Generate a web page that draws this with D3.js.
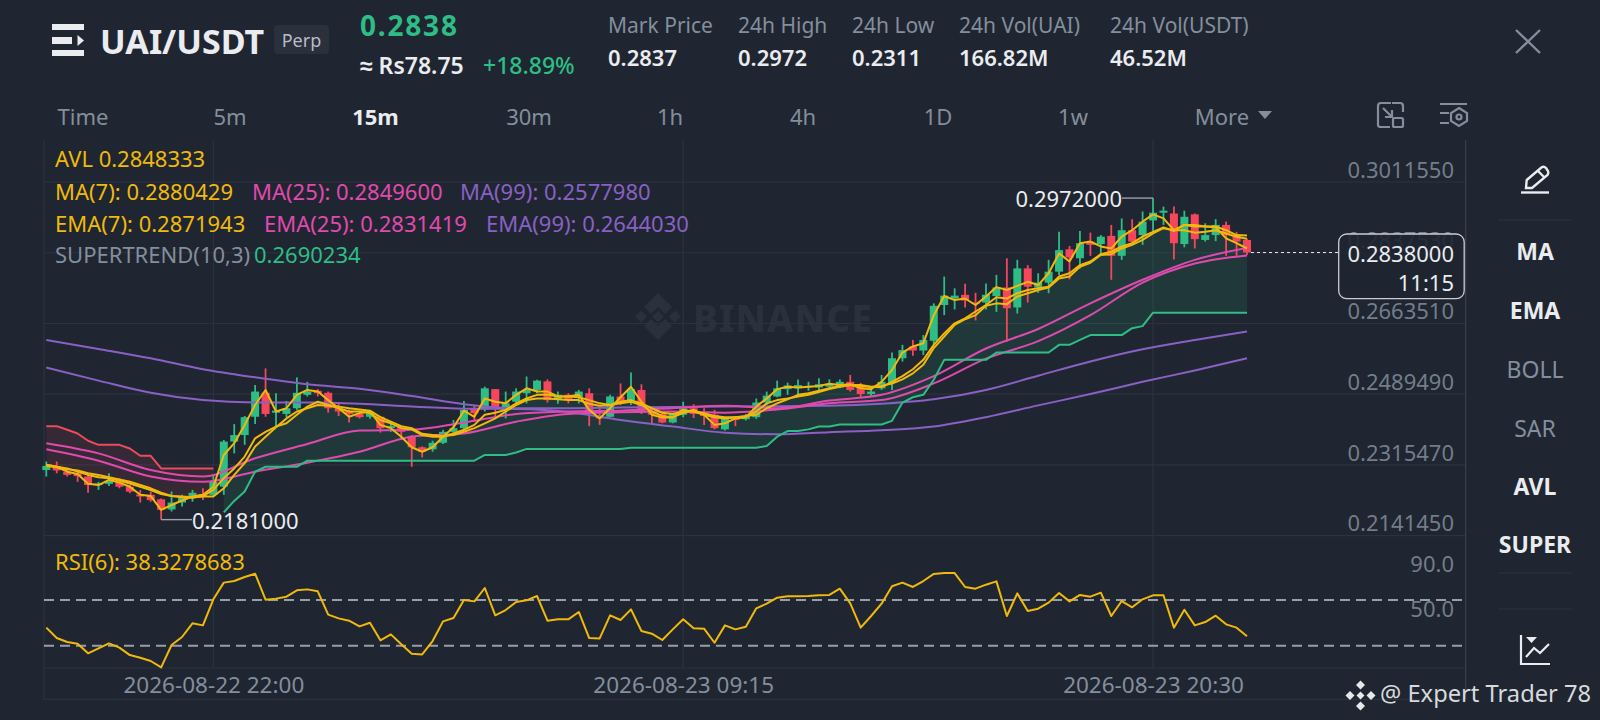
<!DOCTYPE html>
<html><head><meta charset="utf-8">
<script src="https://cdn.jsdelivr.net/npm/d3@7/dist/d3.min.js"></script>
<style>html,body{margin:0;padding:0;background:#1f2631;overflow:hidden}svg{display:block}text{font-family:"Noto Sans",sans-serif}</style>
</head><body><svg id="c" width="1600" height="720"></svg>
<script>
const openP=[.2303,.2313,.2299,.2295,.2287,.2266,.2269,.2274,.2262,.2243,
.2242,.2231,.2206,.2223,.2238,.2244,.2242,.2262,.2373,.2389,
.2434,.2493,.2444,.2441,.2455,.2488,.2498,.2493,.2455,.2447,
.2441,.2434,.2434,.2406,.2408,.2387,.2359,.2354,.2370,.2397,
.2406,.2453,.2452,.2502,.2451,.2471,.2492,.2500,.2521,.2477,
.2488,.2482,.2492,.2434,.2434,.2484,.2475,.2500,.2447,.2441,
.2420,.2439,.2455,.2441,.2439,.2403,.2430,.2428,.2433,.2469,
.2484,.2502,.2504,.2506,.2506,.2508,.2506,.2520,.2510,.2490,
.2504,.2517,.2578,.2607,.2597,.2621,.2709,.2725,.2734,.2715,
.2715,.2731,.2752,.2703,.2799,.2752,.2764,.2791,.2846,.2824,
.2865,.2859,.2879,.2830,.2893,.2881,.2917,.2936,.2934,.2859,
.2932,.2869,.2881,.2906,.2881,.2869];
const highP=[.2324,.2324,.2303,.2299,.2291,.2274,.2295,.2283,.2266,.2254,
.2250,.2233,.2250,.2242,.2254,.2258,.2293,.2377,.2416,.2436,
.2512,.2553,.2492,.2473,.2531,.2520,.2502,.2496,.2467,.2452,
.2447,.2447,.2436,.2416,.2411,.2389,.2361,.2375,.2402,.2426,
.2473,.2463,.2508,.2502,.2496,.2504,.2533,.2525,.2526,.2496,
.2492,.2500,.2504,.2455,.2488,.2516,.2543,.2514,.2451,.2444,
.2444,.2471,.2465,.2455,.2451,.2433,.2436,.2441,.2479,.2496,
.2523,.2518,.2526,.2520,.2529,.2526,.2526,.2537,.2517,.2508,
.2537,.2592,.2611,.2623,.2635,.2713,.2779,.2750,.2761,.2739,
.2762,.2783,.2824,.2820,.2807,.2787,.2820,.2889,.2854,.2891,
.2887,.2881,.2906,.2922,.2920,.2939,.2972,.2951,.2951,.2941,
.2934,.2910,.2920,.2914,.2889,.2872];
const lowP=[.2287,.2295,.2287,.2274,.2247,.2254,.2264,.2258,.2246,.2223,
.2225,.2181,.2201,.2213,.2225,.2229,.2238,.2242,.2344,.2365,
.2416,.2434,.2411,.2433,.2451,.2484,.2484,.2444,.2436,.2420,
.2430,.2429,.2395,.2397,.2377,.2311,.2334,.2348,.2367,.2393,
.2402,.2422,.2447,.2434,.2430,.2463,.2467,.2492,.2469,.2466,
.2467,.2467,.2411,.2414,.2433,.2463,.2463,.2441,.2418,.2418,
.2418,.2433,.2431,.2414,.2403,.2400,.2411,.2425,.2429,.2463,
.2482,.2488,.2484,.2498,.2500,.2502,.2504,.2496,.2482,.2484,
.2500,.2500,.2570,.2584,.2586,.2611,.2684,.2698,.2703,.2671,
.2698,.2692,.2619,.2688,.2715,.2739,.2738,.2783,.2772,.2799,
.2830,.2832,.2771,.2820,.2857,.2857,.2889,.2906,.2821,.2851,
.2848,.2865,.2866,.2830,.2830,.2832];
const closeP=[.2313,.2302,.2291,.2288,.2266,.2270,.2276,.2262,.2250,.2238,
.2229,.2205,.2223,.2238,.2247,.2238,.2274,.2373,.2389,.2433,
.2496,.2441,.2449,.2455,.2493,.2496,.2492,.2455,.2447,.2441,
.2433,.2443,.2406,.2411,.2397,.2359,.2348,.2370,.2397,.2406,
.2451,.2443,.2504,.2455,.2467,.2496,.2500,.2523,.2475,.2488,
.2477,.2496,.2447,.2430,.2484,.2467,.2502,.2447,.2439,.2420,
.2441,.2455,.2441,.2436,.2406,.2430,.2426,.2436,.2469,.2486,
.2504,.2511,.2512,.2510,.2514,.2513,.2520,.2500,.2490,.2496,
.2520,.2578,.2598,.2597,.2623,.2707,.2732,.2732,.2720,.2712,
.2734,.2752,.2701,.2799,.2754,.2764,.2791,.2844,.2826,.2861,
.2857,.2877,.2830,.2893,.2865,.2914,.2936,.2941,.2861,.2926,
.2871,.2881,.2906,.2881,.2865,.2838];
const avl=[.2316,.2311,.2299,.2293,.2269,.2266,.2279,.2272,.2262,.2242,
.2239,.2205,.2217,.2228,.2238,.2242,.2262,.2340,.2369,.2414,
.2463,.2500,.2447,.2455,.2488,.2500,.2496,.2475,.2455,.2434,
.2443,.2447,.2414,.2406,.2385,.2359,.2348,.2359,.2385,.2408,
.2449,.2434,.2479,.2471,.2467,.2488,.2504,.2496,.2496,.2484,
.2484,.2488,.2451,.2430,.2455,.2482,.2508,.2471,.2439,.2432,
.2432,.2451,.2447,.2439,.2414,.2418,.2430,.2433,.2459,.2479,
.2502,.2508,.2506,.2508,.2510,.2515,.2512,.2514,.2504,.2502,
.2520,.2549,.2592,.2607,.2615,.2684,.2731,.2721,.2725,.2709,
.2730,.2753,.2746,.2756,.2766,.2758,.2787,.2836,.2816,.2861,
.2865,.2853,.2848,.2877,.2893,.2914,.2932,.2922,.2893,.2906,
.2902,.2902,.2900,.2873,.2861,.2848];
const ma7=[.2316,.2311,.2307,.2299,.2291,.2285,.2283,.2277,.2270,.2262,
.2254,.2244,.2239,.2236,.2235,.2239,.2254,.2283,.2307,.2336,
.2381,.2397,.2410,.2418,.2439,.2459,.2471,.2463,.2455,.2447,
.2447,.2443,.2426,.2418,.2406,.2403,.2389,.2385,.2385,.2393,
.2402,.2414,.2439,.2444,.2451,.2467,.2479,.2488,.2489,.2484,
.2484,.2482,.2475,.2467,.2463,.2471,.2475,.2467,.2455,.2444,
.2441,.2447,.2447,.2443,.2436,.2433,.2433,.2436,.2439,.2455,
.2467,.2477,.2488,.2492,.2498,.2504,.2510,.2512,.2510,.2507,
.2507,.2520,.2534,.2551,.2574,.2611,.2639,.2664,.2676,.2693,
.2709,.2728,.2725,.2738,.2746,.2750,.2754,.2779,.2787,.2807,
.2816,.2834,.2840,.2853,.2861,.2877,.2889,.2900,.2891,.2906,
.2906,.2902,.2902,.2893,.2881,.2880];
const ema7=[.2313,.2310,.2305,.2302,.2295,.2291,.2285,.2280,.2274,.2266,
.2258,.2247,.2239,.2238,.2236,.2238,.2238,.2258,.2291,.2320,
.2361,.2385,.2408,.2430,.2447,.2455,.2463,.2461,.2459,.2455,
.2452,.2449,.2433,.2422,.2411,.2406,.2392,.2389,.2387,.2389,
.2397,.2406,.2418,.2430,.2447,.2463,.2475,.2479,.2479,.2477,
.2475,.2475,.2466,.2461,.2463,.2467,.2471,.2463,.2447,.2436,
.2433,.2443,.2451,.2439,.2433,.2430,.2433,.2434,.2447,.2467,
.2475,.2479,.2484,.2488,.2495,.2502,.2508,.2512,.2512,.2508,
.2510,.2516,.2526,.2541,.2562,.2603,.2631,.2660,.2674,.2684,
.2707,.2713,.2711,.2730,.2738,.2746,.2752,.2774,.2779,.2803,
.2813,.2832,.2834,.2848,.2857,.2869,.2885,.2898,.2893,.2893,
.2887,.2889,.2893,.2885,.2877,.2872];
const knotIndex=[0,5,10,15,20,25,30,35,40,45,50,55,60,65,70,75,80,85,90,95,100,105,110,115];
const ma25=[.2369,.2344,.2303,.2287,.2332,.2367,.2400,.2402,.2420,.2441,.2447,.2449,.2455,.2461,.2455,.2474,.2488,.2534,.2602,.2650,.2713,.2771,.2820,.2849];
const ema25=[.2354,.2326,.2287,.2274,.2299,.2321,.2348,.2385,.2393,.2422,.2441,.2445,.2447,.2444,.2452,.2467,.2475,.2516,.2577,.2620,.2684,.2764,.2811,.2831];
const ma99=[.2555,.2523,.2493,.2475,.2469,.2469,.2466,.2459,.2454,.2453,.2446,.2426,.2410,.2395,.2391,.2396,.2401,.2410,.2433,.2462,.2490,.2520,.2548,.2578];
const ema99=[.2623,.2601,.2578,.2551,.2531,.2514,.2503,.2485,.2465,.2455,.2455,.2457,.2458,.2459,.2460,.2461,.2466,.2477,.2500,.2535,.2570,.2600,.2623,.2644];
const supertrend=[.2411,.2411,.2402,.2393,.2375,.2365,.2365,.2365,.2356,.2338,
.2338,.2307,.2307,.2307,.2307,.2307,.2307,.2199,.2227,.2250,
.2299,.2311,.2311,.2311,.2311,.2326,.2326,.2326,.2326,.2326,
.2326,.2326,.2326,.2326,.2326,.2326,.2326,.2326,.2326,.2326,
.2326,.2326,.2340,.2340,.2340,.2346,.2355,.2355,.2355,.2355,
.2355,.2355,.2355,.2355,.2355,.2355,.2358,.2358,.2358,.2358,
.2358,.2358,.2358,.2358,.2358,.2358,.2358,.2358,.2358,.2362,
.2385,.2399,.2399,.2403,.2410,.2410,.2415,.2415,.2415,.2415,
.2415,.2424,.2469,.2482,.2488,.2525,.2574,.2574,.2574,.2574,
.2574,.2592,.2592,.2592,.2592,.2592,.2592,.2611,.2611,.2623,
.2635,.2635,.2635,.2635,.2652,.2657,.2690,.2690,.2690,.2690,
.2690,.2690,.2690,.2690,.2690,.2690];
const firstGreenIndex=17;
const rsi=[45.8,36.7,33.2,31.8,23.3,27.7,32.1,28.3,21.8,19.5,
16.6,11.0,30.6,37.6,49.6,47.8,70.6,85.2,86.6,90.1,
93.0,70.3,71.2,72.9,78.5,79.3,77.6,57.2,53.9,51.9,
46.9,50.1,34.7,39.9,31.2,23.0,22.4,34.1,51.3,54.2,
70.0,68.8,80.5,56.6,61.2,68.2,69.7,73.5,51.9,53.1,
53.1,59.5,36.7,36.4,56.6,52.5,61.8,42.9,40.5,35.0,
44.3,53.1,45.2,44.9,32.6,47.8,44.3,46.6,62.7,66.8,
72.0,73.2,73.2,73.5,74.1,74.4,79.9,67.1,45.8,56.0,
66.8,82.0,85.2,81.4,86.6,92.8,93.6,93.6,81.4,79.9,
83.4,86.3,56.0,75.8,60.4,62.4,67.7,76.1,68.8,74.4,
72.9,76.4,56.0,69.1,63.6,70.6,74.1,74.1,45.8,61.5,
47.8,50.7,56.3,48.7,45.8,38.3];
const priceTicks=[0.3011550,0.2837530,0.2663510,0.2489490,0.2315470,0.2141450];
const rsiTicks=[90,50];
const rsiBands=[70,30];
const timeTickIndex=[16,61,106];
const timeTickLabels=["2026-08-22 22:00","2026-08-23 09:15","2026-08-23 20:30"];
const tabs=["Time","5m","15m","30m","1h","4h","1D","1w","More"];
const statLabels=["Mark Price","24h High","24h Low","24h Vol(UAI)","24h Vol(USDT)"];
const statValues=["0.2837","0.2972","0.2311","166.82M","46.52M"];
const sideLabels=["MA","EMA","BOLL","SAR","AVL","SUPER"];
const sideActive=[true,true,false,false,true,true];

const GREEN="#2ebd85",RED="#f6465d",YEL="#f0b90b",PINK="#e04aae",PUR="#8a60c4",GREY="#848e9c",WHITE="#eaecef",GRID="#2c333f";
const svg=d3.select("#c");
svg.append("rect").attr("width",1600).attr("height",720).attr("fill","#1f2631");
function T(s,x,y,o={}){return svg.append("text").text(s).attr("x",x).attr("y",y).attr("dominant-baseline","central")
 .attr("font-size",o.size||22).attr("fill",o.fill||GREY).attr("font-weight",o.weight||400).attr("text-anchor",o.anchor||"start")
 .attr("letter-spacing",o.ls||null).attr("font-family",o.family||null);}

const x=d3.scaleLinear().domain([0,115]).range([46.3,1247]);
const y=d3.scaleLinear().domain([0.214145,0.301155]).range([535.7,182]);
const yR=d3.scaleLinear().domain([30,70]).range([645.7,600]);

// watermark
const WM="#2a313d";
const wm=svg.append("g").attr("fill",WM);
wm.append("path").attr("d","M658 293L672 307L665 314L658 307L651 314L644 307Z");
wm.append("path").attr("d","M658 340L672 326L665 319L658 326L651 319L644 326Z");
[[658,316.5],[641,316.5],[675,316.5]].forEach(c=>wm.append("path").attr("d",`M${c[0]-6} ${c[1]}L${c[0]} ${c[1]-6}L${c[0]+6} ${c[1]}L${c[0]} ${c[1]+6}Z`));
T("BINANCE",693,317,{size:37,weight:800,fill:WM,family:"Inter",ls:1.2});

// frame
const L=44,R=1465.7,TOP=140,BOT=699.3;
const frame=svg.append("g").attr("stroke",GRID).attr("stroke-width",1.2).attr("fill","none");
priceTicks.forEach(p=>frame.append("line").attr("x1",L).attr("x2",R).attr("y1",y(p)).attr("y2",y(p)));
frame.append("line").attr("x1",L).attr("x2",R).attr("y1",668).attr("y2",668);
frame.append("line").attr("x1",L).attr("x2",R).attr("y1",BOT).attr("y2",BOT);
frame.append("line").attr("x1",L).attr("x2",L).attr("y1",TOP).attr("y2",BOT);
frame.append("line").attr("x1",R).attr("x2",R).attr("y1",TOP).attr("y2",BOT).attr("stroke","#3a414d");
timeTickIndex.forEach(i=>frame.append("line").attr("x1",x(i)).attr("x2",x(i)).attr("y1",TOP).attr("y2",668));

// supertrend fill
const areaGen=d3.area().x(i=>x(i)).y0(i=>y(supertrend[i])).y1(i=>y(ema7[i]));
const allIdx=d3.range(closeP.length);
svg.append("path").attr("d",areaGen(allIdx.filter(i=>i<firstGreenIndex))).attr("fill",RED).attr("fill-opacity",0.1);
svg.append("path").attr("d",areaGen(allIdx.filter(i=>i>=firstGreenIndex))).attr("fill",GREEN).attr("fill-opacity",0.12);

// candles
const cg=svg.append("g");
cg.selectAll("line").data(allIdx).join("line").attr("x1",x).attr("x2",x)
 .attr("y1",i=>y(highP[i])).attr("y2",i=>y(lowP[i])).attr("stroke-width",1.8)
 .attr("stroke",i=>closeP[i]>=openP[i]?GREEN:RED);
cg.selectAll("rect").data(allIdx).join("rect").attr("x",i=>x(i)-4).attr("width",8)
 .attr("y",i=>y(Math.max(openP[i],closeP[i])))
 .attr("height",i=>Math.max(1.5,Math.abs(y(openP[i])-y(closeP[i]))))
 .attr("fill",i=>closeP[i]>=openP[i]?GREEN:RED);

// indicator lines
function ln(vals,idx,col,curve){const g=d3.line().x(d=>x(d[0])).y(d=>y(d[1])).curve(curve||d3.curveLinear);
 svg.append("path").attr("d",g(idx.map((k,j)=>[k,vals[j]]))).attr("fill","none").attr("stroke",col).attr("stroke-width",2).attr("stroke-linejoin","round");}
ln(ema99,knotIndex,PUR,d3.curveMonotoneX);
ln(ma99,knotIndex,PUR,d3.curveMonotoneX);
ln(ema25,knotIndex,PINK,d3.curveMonotoneX);
ln(ma25,knotIndex,PINK,d3.curveMonotoneX);
const redIdx=allIdx.filter(i=>i<firstGreenIndex),grnIdx=allIdx.filter(i=>i>=firstGreenIndex);
ln(redIdx.map(i=>supertrend[i]),redIdx,"#ef4a5c");
ln(grnIdx.map(i=>supertrend[i]),grnIdx,GREEN);
ln(ema7,allIdx,YEL);
ln(ma7,allIdx,YEL);
ln(avl,allIdx,YEL);

// y axis (labels)
const yAxis=d3.axisLeft(y).tickValues(priceTicks).tickSize(0).tickPadding(0).tickFormat(d3.format(".7f"));
const ya=svg.append("g").attr("transform","translate(1454,-12)").call(yAxis);
ya.select(".domain").remove();
ya.selectAll("text").attr("font-size",22).attr("fill",GREY).attr("font-family",'"Noto Sans"').attr("fill-opacity",0.85);

// high/low leaders
const hiI=d3.range(closeP.length).reduce((a,b)=>highP[b]>highP[a]?b:a,0);
const loI=d3.range(closeP.length).reduce((a,b)=>lowP[b]<lowP[a]?b:a,0);
svg.append("path").attr("d",`M1122 ${y(highP[hiI])}H${x(hiI)}`).attr("stroke","#9aa1ab").attr("stroke-width",1.4).attr("fill","none");
T(d3.format(".7f")(highP[hiI]),1122,y(highP[hiI]),{size:22,fill:WHITE,anchor:"end"});
svg.append("path").attr("d",`M${x(loI)} ${y(lowP[loI])}H192`).attr("stroke","#9aa1ab").attr("stroke-width",1.4).attr("fill","none");
T(d3.format(".7f")(lowP[loI]),192,y(lowP[loI]),{size:22,fill:WHITE});

// last price
const last=closeP[closeP.length-1],ly=y(last);
svg.append("line").attr("x1",x(115)+4).attr("x2",1339).attr("y1",ly).attr("y2",ly).attr("stroke",WHITE).attr("stroke-width",1).attr("stroke-dasharray","3 3");
svg.append("rect").attr("x",1338.7).attr("y",234).attr("width",125.5).attr("height",64.7).attr("rx",8).attr("fill","#1f2631").attr("fill-opacity",0.9).attr("stroke","#c9ccd1").attr("stroke-width",1.3);
T(d3.format(".7f")(last),1454,253,{size:22,fill:WHITE,anchor:"end"});
T("11:15",1454,282,{size:22,fill:WHITE,anchor:"end"});

// legend
T("AVL 0.2848333",55,158,{fill:YEL});
T("MA(7): 0.2880429",55,191,{fill:YEL});
T("MA(25): 0.2849600",252,191,{fill:PINK});
T("MA(99): 0.2577980",460,191,{fill:PUR});
T("EMA(7): 0.2871943",55,222.5,{fill:YEL});
T("EMA(25): 0.2831419",264,222.5,{fill:PINK});
T("EMA(99): 0.2644030",486,222.5,{fill:PUR});
T("SUPERTREND(10,3)",55,254,{fill:GREY});
T("0.2690234",254,254,{fill:GREEN});

// RSI
T("RSI(6): 38.3278683",55,561,{fill:YEL});
rsiBands.forEach(b=>svg.append("line").attr("x1",L).attr("x2",1462).attr("y1",yR(b)).attr("y2",yR(b)).attr("stroke","#9a9ea5").attr("stroke-width",2).attr("stroke-dasharray","10 6"));
svg.append("path").attr("d",d3.line().x((d,i)=>x(i)).y(d=>yR(d))(rsi)).attr("fill","none").attr("stroke",YEL).attr("stroke-width",2).attr("stroke-linejoin","round");
const rAxis=d3.axisLeft(yR).tickValues(rsiTicks).tickSize(0).tickPadding(0).tickFormat(d3.format(".1f"));
const ra=svg.append("g").attr("transform","translate(1454,-13)").call(rAxis);
ra.select(".domain").remove();
ra.selectAll("text").attr("font-size",22).attr("fill",GREY).attr("font-family",'"Noto Sans"').attr("fill-opacity",0.85);

// time axis
const xAxis=d3.axisBottom(x).tickValues(timeTickIndex).tickSize(0).tickPadding(0).tickFormat((d,i)=>timeTickLabels[i]);
const xa=svg.append("g").attr("transform","translate(0,677)").call(xAxis);
xa.select(".domain").remove();
xa.selectAll("text").attr("font-size",22.5).attr("fill",GREY).attr("font-family",'"Noto Sans"');

// header
const ic=svg.append("g").attr("fill",WHITE);
ic.append("rect").attr("x",52).attr("y",24).attr("width",32).attr("height",6);
ic.append("rect").attr("x",52).attr("y",50).attr("width",32).attr("height",6);
ic.append("rect").attr("x",52).attr("y",37).attr("width",20).attr("height",7);
ic.append("path").attr("d","M77.5 35L84 40.5L77.5 46Z");
T("UAI/USDT",100,41,{size:34,weight:700,fill:WHITE,family:"Inter"});
svg.append("rect").attr("x",274).attr("y",25).attr("width",55).attr("height",29).attr("rx",4).attr("fill","#2a303c");
T("Perp",301.5,40,{size:18,fill:"#b7bdc6",anchor:"middle"});
T("0.2838",360,25,{size:28,weight:700,fill:GREEN,family:"Inter",ls:1.8});
T("≈ Rs78.75",360,65,{size:23,weight:600,fill:WHITE,family:"Inter"});
T("+18.89%",483,65,{size:23,weight:500,fill:GREEN,family:"Inter"});
const statX=[608,738,852,959,1110];
statLabels.forEach((s,i)=>{T(s,statX[i],25,{size:21,fill:GREY});T(statValues[i],statX[i],57,{size:22,weight:600,fill:WHITE});});
svg.append("path").attr("d","M1516 30L1540 53M1540 30L1516 53").attr("stroke",GREY).attr("stroke-width",2.4).attr("fill","none");

// tabs
const tabX=[83,230,375.5,529,670,803,938,1073,1222];
tabs.forEach((t,i)=>T(t,tabX[i],116,{size:22,anchor:"middle",weight:t==="15m"?700:400,fill:t==="15m"?WHITE:GREY}));
svg.append("path").attr("d","M1258 111H1272L1265 119Z").attr("fill",GREY);
const ig=svg.append("g").attr("stroke",GREY).attr("stroke-width",2.2).attr("fill","none");
ig.append("path").attr("d","M1391 103H1381Q1378 103 1378 106V125Q1378 127 1381 127H1390M1392 103H1400Q1403 103 1403 106V112M1383 108L1392 117M1392 110V117H1385");
ig.append("rect").attr("x",1393).attr("y",118).attr("width",10).attr("height",9).attr("rx",1.5);
ig.append("path").attr("d","M1440 104H1467M1440 113H1449M1440 123H1449M1459 108L1467 113V121L1459 126L1451 121V113Z");
ig.append("circle").attr("cx",1459).attr("cy",117).attr("r",2.5);

// side panel
const pen=svg.append("g").attr("stroke",WHITE).attr("stroke-width",2.4).attr("fill","none");
pen.append("path").attr("d","M1526.7 180L1541.7 167.3Q1544 166 1546 168L1548 171Q1549 173 1547.5 175L1532 188H1526Z M1538 171L1545 178");
pen.append("path").attr("d","M1521 192.5H1549");
[[220],[573],[609]].forEach(a=>svg.append("line").attr("x1",1498).attr("x2",1572).attr("y1",a[0]).attr("y2",a[0]).attr("stroke",GRID).attr("stroke-width",1.2));
const sideY=[251,310,369,427.5,486,544];
sideLabels.forEach((s,i)=>T(s,1535,sideY[i],{size:23,anchor:"middle",weight:sideActive[i]?700:400,fill:sideActive[i]?WHITE:GREY,family:"Inter"}));
const ch=svg.append("g").attr("stroke",WHITE).attr("stroke-width",2.2).attr("fill","none");
ch.append("path").attr("d","M1521 635V664H1550M1526 657L1534 648L1540 653L1549 644");
svg.append("path").attr("d","M1526 637H1537L1531.5 643Z").attr("fill",WHITE);

// attribution
const bn=svg.append("g").attr("fill","#e6e8ea");
[[1360.5,685],[1360.5,706],[1350,695.5],[1371,695.5]].forEach(c=>bn.append("path").attr("d",`M${c[0]-4.5} ${c[1]}L${c[0]} ${c[1]-4.5}L${c[0]+4.5} ${c[1]}L${c[0]} ${c[1]+4.5}Z`));
bn.append("path").attr("d","M1360.5 691.5L1364.5 695.5L1360.5 699.5L1356.5 695.5Z");
T("@ Expert Trader 78",1380,693,{size:23.7,fill:"#d7dadd"});
</script></body></html>
